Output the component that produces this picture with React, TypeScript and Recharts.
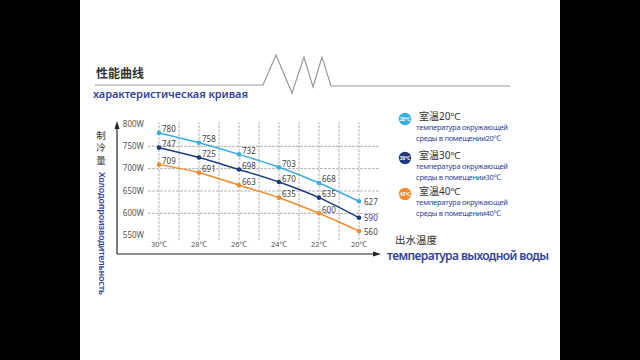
import { LineChart, Line, XAxis, YAxis, ReferenceLine } from "recharts";

const temps = [30, 28, 26, 24, 22, 20];
const room20 = [780, 758, 732, 703, 668, 627];
const room30 = [747, 725, 698, 670, 635, 590];
const room40 = [709, 691, 663, 635, 600, 560];

const yTicks = [550, 600, 650, 700, 750, 800];
const hGrid = [600, 650, 700, 750];
const vGrid = [20, 21, 22, 23, 24, 25, 26, 27, 28, 29, 30];

const data = temps.map((t, i) => ({
  t,
  s20: room20[i],
  s30: room30[i],
  s40: room40[i],
}));

const FONT = "'Noto Sans', 'Noto Sans CJK SC', sans-serif";
const NAVY_TEXT = "#33439a";
const C20 = "#3aaee2";
const C30 = "#1f3b7d";
const C40 = "#f08c2e";

const legend = [
  { color: C20, short: "20℃", title: "室温20℃", line2: "среды в помещении20℃", cy: 119 },
  { color: C30, short: "30℃", title: "室温30℃", line2: "среды в помещении30℃", cy: 158 },
  { color: C40, short: "40℃", title: "室温40℃", line2: "среды в помещении40℃", cy: 194 },
];

const yTitleChars = ["制", "冷", "量"];

// value labels sit up-right of each point, the last one straight to the right
const renderLabel = (props: any) => {
  const x = props.x ?? props.viewBox?.x;
  const y = props.y ?? props.viewBox?.y;
  const last = props.index === temps.length - 1;
  return (
    <text
      x={x + (last ? 5 : 3)}
      y={y + (last ? 0 : -4)}
      fontSize={8}
      fill="#444"
      fontFamily={FONT}
      dominantBaseline="central"
    >
      {props.value}
    </text>
  );
};

export default function App() {
  return (
    <div
      style={{
        position: "absolute",
        left: 0,
        top: 0,
        width: 640,
        height: 360,
        background: "#000",
        overflow: "hidden",
      }}
    >
      <div
        style={{
          position: "absolute",
          left: 80,
          top: 0,
          width: 480,
          height: 360,
          background: "#fff",
        }}
      />

      {/* decorations and texts */}
      <svg
        width={640}
        height={360}
        style={{ position: "absolute", left: 0, top: 0 }}
        fontFamily={FONT}
      >
        <text x={96} y={78} fontSize={12} fontWeight="bold" fill="#333">
          性能曲线
        </text>
        <polyline
          points="95,85 263,85 276,55 292,93 304,57 313,87 322,57 331,86 510,86"
          fill="none"
          stroke="#999"
          strokeWidth={1.2}
        />
        <text
          x={93}
          y={98}
          fontSize={11}
          fontWeight={600}
          fill={NAVY_TEXT}
          textLength={155}
        >
          характеристическая кривая
        </text>

        {/* axes */}
        <line x1={117} y1={254} x2={117} y2={128} stroke="#222" strokeWidth={1.2} />
        <polygon points="117,121 114.5,129 119.5,129" fill="#222" />
        <line x1={117} y1={254} x2={374} y2={254} stroke="#222" strokeWidth={1.2} />
        <polygon points="381,254 373,251.5 373,256.5" fill="#222" />

        {/* y title */}
        {yTitleChars.map((c, i) => (
          <text
            key={c}
            x={101}
            y={135 + i * 12.8}
            fontSize={9.5}
            fill="#333"
            textAnchor="middle"
            dominantBaseline="central"
          >
            {c}
          </text>
        ))}
        <g transform="translate(102,172) rotate(90)">
          <text
            x={0}
            y={0}
            fontSize={9}
            fontWeight={600}
            fill={NAVY_TEXT}
            dominantBaseline="central"
            textLength={123}
          >
            Холодопроизводительность
          </text>
        </g>

        {/* x title */}
        <text x={395} y={244} fontSize={10.5} fill="#333">出水温度</text>
        <text
          x={387}
          y={260}
          fontSize={12}
          fontWeight={600}
          fill={NAVY_TEXT}
          textLength={162}
        >
          температура выходной воды
        </text>

        {/* legend */}
        {legend.map((l) => (
          <g key={l.title}>
            <circle cx={405} cy={l.cy} r={6.2} fill={l.color} />
            <text
              x={405}
              y={l.cy}
              fontSize={5}
              fill="#fff"
              textAnchor="middle"
              dominantBaseline="central"
              fontWeight="bold"
            >
              {l.short}
            </text>
            <text x={419} y={l.cy + 1} fontSize={10} fill="#333">
              {l.title}
            </text>
            <text x={416} y={l.cy + 11} fontSize={7.5} fill={NAVY_TEXT} textLength={92}>
              температура окружающей
            </text>
            <text x={416} y={l.cy + 22} fontSize={7.5} fill={NAVY_TEXT} textLength={85}>
              {l.line2}
            </text>
          </g>
        ))}
      </svg>

      <div style={{ position: "absolute", left: 0, top: 0 }}>
        <LineChart
          width={640}
          height={360}
          data={data}
          margin={{ top: 122.2, right: 260, left: 118, bottom: 99.9 }}
        >
          {hGrid.map((v) => (
            <ReferenceLine
              key={`h${v}`}
              y={v}
              stroke="#b5b5b5"
              strokeDasharray="3 1"
            />
          ))}
          {vGrid.map((v) => (
            <ReferenceLine
              key={`v${v}`}
              x={v}
              stroke="#b5b5b5"
              strokeDasharray="3 1"
            />
          ))}
          <XAxis
            dataKey="t"
            type="number"
            domain={[18.95, 30.55]}
            allowDataOverflow
            reversed
            ticks={temps}
            tickFormatter={(v) => `${v}℃`}
            axisLine={false}
            tickLine={false}
            tickSize={0}
            tickMargin={2}
            height={20}
            tick={{ fontSize: 7.5, fill: "#555", fontFamily: FONT }}
          />
          <YAxis
            type="number"
            domain={[540, 804]}
            allowDataOverflow
            ticks={yTicks}
            tickFormatter={(v) => `${v}W`}
            axisLine={false}
            tickLine={false}
            tickSize={0}
            tickMargin={4}
            width={30}
            tick={{ fontSize: 8, fill: "#555", fontFamily: FONT }}
          />
          <Line
            type="monotone"
            dataKey="s20"
            stroke={C20}
            strokeWidth={1.5}
            dot={{ r: 2.3, fill: C20, stroke: C20, strokeWidth: 0 }}
            activeDot={false}
            label={renderLabel}
            isAnimationActive={false}
          />
          <Line
            type="monotone"
            dataKey="s30"
            stroke={C30}
            strokeWidth={1.5}
            dot={{ r: 2.3, fill: C30, stroke: C30, strokeWidth: 0 }}
            activeDot={false}
            label={renderLabel}
            isAnimationActive={false}
          />
          <Line
            type="monotone"
            dataKey="s40"
            stroke={C40}
            strokeWidth={1.5}
            dot={{ r: 2.3, fill: C40, stroke: C40, strokeWidth: 0 }}
            activeDot={false}
            label={renderLabel}
            isAnimationActive={false}
          />
        </LineChart>
      </div>
    </div>
  );
}
